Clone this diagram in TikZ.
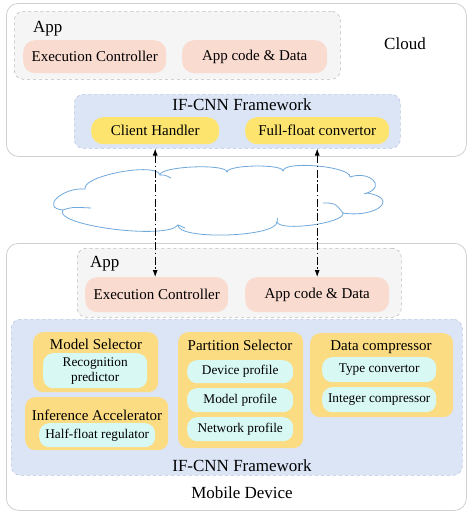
\documentclass[tikz,border=0pt]{standalone}
\usepackage{fontspec}
\setmainfont{Liberation Serif}
\usetikzlibrary{arrows.meta}
\definecolor{outerline}{HTML}{D0D0D0}
\definecolor{appfill}{HTML}{F5F5F5}
\definecolor{appline}{HTML}{BBBBBB}
\definecolor{salmon}{HTML}{FADBD0}
\definecolor{fwfill}{HTML}{DCE5F6}
\definecolor{fwline}{HTML}{B8C6E0}
\definecolor{yel}{HTML}{FDE46E}
\definecolor{gold}{HTML}{FCDC82}
\definecolor{aqua}{HTML}{D8F8F3}
\definecolor{cloudline}{HTML}{6FA8DC}
\tikzset{
  outerbox/.style={draw=outerline, line width=0.8pt, rounded corners=12pt, fill=white, anchor=north west, inner sep=0pt},
  appbox/.style={draw=appline, dashed, line width=0.6pt, rounded corners=9pt, fill=appfill, anchor=north west, inner sep=0pt},
  fwbox/.style={draw=fwline, dashed, line width=0.6pt, rounded corners=9pt, fill=fwfill, anchor=north west, inner sep=0pt},
  salpill/.style={fill=salmon, rounded corners=12pt, anchor=north west, inner sep=0pt, font=\fontsize{15}{17}\selectfont},
  yelpill/.style={fill=yel, rounded corners=12pt, anchor=north west, inner sep=0pt, font=\fontsize{15}{17}\selectfont},
  goldbox/.style={fill=gold, rounded corners=10pt, anchor=north west, inner sep=0pt},
  aquapill/.style={fill=aqua, rounded corners=10pt, anchor=north west, inner sep=0pt, align=center, font=\fontsize{13.3}{15}\selectfont},
  lbl/.style={inner sep=0pt},
  big/.style={font=\fontsize{17}{19}\selectfont},
  mid/.style={font=\fontsize{15}{17}\selectfont},
  cloudstroke/.style={draw=cloudline, line width=0.8pt},
  arr/.style={{Latex[length=7pt,width=5pt]}-{Latex[length=7pt,width=5pt]}, dash pattern=on 8pt off 2.5pt on 1.5pt off 2.5pt, line width=0.8pt}
}
\begin{document}
\begin{tikzpicture}[x=1pt,y=-1pt]
\useasboundingbox (0,0) rectangle (474,515);
% Cloud side
\node[outerbox, minimum width=460pt, minimum height=153pt] (cloudside) at (6,3) {};
\node[appbox, minimum width=326pt, minimum height=68pt] (apptop) at (14,11) {};
\node[lbl, big, anchor=west] (applbltop) at (33,29) {App};
\node[salpill, minimum width=143pt, minimum height=33pt] (ectop) at (23,40) {Execution Controller};
\node[salpill, minimum width=145pt, minimum height=33pt] (actop) at (182,40) {App code \& Data};
\node[lbl, big] (cloudlbl) at (405,44) {Cloud};
\node[fwbox, minimum width=326pt, minimum height=54pt] (fwtop) at (74,94) {};
\node[lbl, big] (fwtoplbl) at (242,105) {IF-CNN Framework};
\node[yelpill, minimum width=128pt, minimum height=27pt] (ch) at (91,117) {Client Handler};
\node[yelpill, minimum width=144pt, minimum height=27pt] (ffc) at (245,117) {Full-float convertor};
% network cloud (drawn shape)
\path[cloudstroke, fill=white]
  (85,189) .. controls (81.7,175.7) and (156.7,161.7) .. (160,175)
  .. controls (159.3,166.3) and (226.3,163.3) .. (227,172)
  .. controls (227,164.7) and (283,163.7) .. (283,171)
  .. controls (283.7,160.3) and (350.7,166.3) .. (350,177)
  .. controls (369.3,170.3) and (386.3,186.3) .. (367,193)
  .. controls (400.3,198.3) and (376.3,218.3) .. (343,213)
  .. controls (345.7,223) and (279.7,232) .. (277,222)
  .. controls (276.3,237.3) and (177.3,240.3) .. (178,225)
  .. controls (166.7,240.3) and (51.7,225.3) .. (63,210)
  .. controls (40.3,208) and (62.3,187) .. (85,189) -- cycle;
\draw[cloudstroke] (63,210) .. controls (72,207) .. (91,208);
\draw[cloudstroke] (160,175) .. controls (165,175) .. (171,178);
\draw[cloudstroke] (323,203) .. controls (335,203) .. (343,213);
\draw[cloudstroke] (277,222) -- (277.5,218);
\draw[cloudstroke] (178,225) .. controls (182,226) .. (185,228);
\draw[cloudstroke] (367,193) -- (364,194);
% Mobile side
\node[outerbox, minimum width=460pt, minimum height=267pt] (mobile) at (6,243) {};
\node[appbox, minimum width=324pt, minimum height=69pt] (appbot) at (77,248) {};
\node[lbl, big, anchor=west] (applblbot) at (90,264) {App};
\node[salpill, minimum width=143pt, minimum height=35pt] (ecbot) at (85,277) {Execution Controller};
\node[salpill, minimum width=144pt, minimum height=35pt] (acbot) at (245,277) {App code \& Data};
\node[fwbox, minimum width=451pt, minimum height=156pt] (fwbot) at (11,319) {};
\node[lbl, big] (fwbotlbl) at (242,466) {IF-CNN Framework};
\node[lbl, big] (mobilelbl) at (242,493) {Mobile Device};
% Model selector
\node[goldbox, minimum width=125pt, minimum height=60pt] (ms) at (33,332) {};
\node[lbl, mid] (mslbl) at (96,344) {Model Selector};
\node[aquapill, minimum width=104pt, minimum height=35pt] (rp) at (43,353) {Recognition\\predictor};
% Inference accelerator
\node[goldbox, minimum width=143pt, minimum height=53pt] (ia) at (25,397) {};
\node[lbl, mid] (ialbl) at (97,415) {Inference Accelerator};
\node[aquapill, minimum width=116pt, minimum height=24pt] (hf) at (39,423) {Half-float regulator};
% Partition selector
\node[goldbox, minimum width=125pt, minimum height=116pt] (ps) at (178,332) {};
\node[lbl, mid] (pslbl) at (240,345) {Partition Selector};
\node[aquapill, minimum width=106pt, minimum height=23pt] (dp) at (187,360) {Device profile};
\node[aquapill, minimum width=106pt, minimum height=24pt] (mp) at (187,388) {Model profile};
\node[aquapill, minimum width=106pt, minimum height=24pt] (np) at (187,417) {Network profile};
% Data compressor
\node[goldbox, minimum width=143pt, minimum height=84pt] (dc) at (310,333) {};
\node[lbl, mid] (dclbl) at (381,347) {Data compressor};
\node[aquapill, minimum width=114pt, minimum height=25pt] (tc) at (322,357) {Type convertor};
\node[aquapill, minimum width=114pt, minimum height=25pt] (ic) at (322,387) {Integer compressor};
% arrows
\draw[arr] (ch.south |- fwtop.south) -- (ch.south |- ecbot.north);
\draw[arr] (ffc.south |- fwtop.south) -- (ffc.south |- acbot.north);
\end{tikzpicture}
\end{document}
